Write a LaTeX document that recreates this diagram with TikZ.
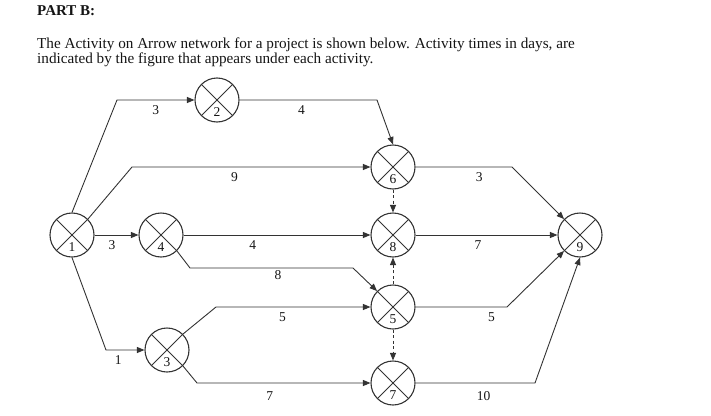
\documentclass[tikz,border=0pt]{standalone}
\usepackage{fontspec}
\setmainfont{Liberation Serif}
\usepackage{xcolor}
\definecolor{netline}{RGB}{51,51,51}
\definecolor{nettext}{RGB}{20,20,20}
\usetikzlibrary{arrows.meta,calc}

\begin{document}
\begin{tikzpicture}[x=1pt, y=-1pt,
  evt/.style={circle, draw=netline, line width=1.1pt, minimum size=44pt, inner sep=0pt,
    path picture={\draw[netline, line width=0.9pt]
      (path picture bounding box.north west) -- (path picture bounding box.south east)
      (path picture bounding box.north east) -- (path picture bounding box.south west);}},
  num/.style={font=\fontsize{13.5}{13.5}\selectfont, text=nettext, yshift=-12pt},
  act/.style={draw=netline, line width=0.9pt, -{Triangle[length=7.5pt,width=6pt]}},
  dum/.style={act, dashed, dash pattern=on 3pt off 2.5pt},
  lbl/.style={font=\fontsize{13.5}{13.5}\selectfont, text=nettext, anchor=north, inner sep=0pt, yshift=-5pt}]
  \useasboundingbox (0,0) rectangle (711,415);

  % heading
  \node[anchor=base west, inner sep=0pt, font=\fontsize{15}{15}\selectfont\bfseries, text=nettext] (head) at (37,16) {PART B:};
  \node[anchor=base west, inner sep=0pt, font=\fontsize{15.2}{15}\selectfont, text=nettext] (txtA) at (37,48) {The Activity on Arrow network for a project is shown below. Activity times in days, are};
  \node[anchor=base west, inner sep=0pt, font=\fontsize{15.2}{15}\selectfont, text=nettext] (txtB) at (37,63) {indicated by the figure that appears under each activity.};

  % events
  \node[evt, label={[num]center:1}] (n1) at (72,235) {};
  \node[evt, label={[num]center:2}] (n2) at (217,100) {};
  \node[evt, label={[num]center:3}] (n3) at (167,350) {};
  \node[evt, label={[num]center:4}] (n4) at (161,235) {};
  \node[evt, label={[num]center:5}] (n5) at (393,307) {};
  \node[evt, label={[num]center:6}] (n6) at (393,167) {};
  \node[evt, label={[num]center:7}] (n7) at (393,383) {};
  \node[evt, label={[num]center:8}] (n8) at (393,235) {};
  \node[evt, label={[num]center:9}] (n9) at (580,235) {};

  % activities
  \draw[act] (n1.north) -- (117,100) -- node[lbl, pos=0.5] {3} (n2);
  \draw[act] (n2) -- node[lbl, pos=0.45] {4} (377,100) -- (n6.north);
  \draw[act] (n1.north east) -- (132,167) -- node[lbl, pos=0.43] {9} (n6);
  \draw[act] (n1) -- node[lbl, pos=0.4] {3} (n4);
  \draw[act] (n4) -- node[lbl, pos=0.37] {4} (n8);
  \draw[act] (n4.south east) -- (190,268) -- node[lbl, pos=0.54, yshift=3pt] {8} (353,268) -- (n5.north west);
  \draw[act] (n1.south) -- (106,350) -- node[lbl, pos=0.32] {1} (n3);
  \draw[act] (n3.north east) -- (216,307) -- node[lbl, pos=0.43] {5} (n5);
  \draw[act] (n3.south east) -- (197,383) -- node[lbl, pos=0.42, yshift=-3pt] {7} (n7);
  \draw[act] (n6) -- node[lbl, pos=0.66] {3} (512,167) -- (n9.north west);
  \draw[act] (n8) -- node[lbl, pos=0.44] {7} (n9);
  \draw[act] (n5) -- node[lbl, pos=0.83] {5} (507,307) -- (n9.south west);
  \draw[act] (n7) -- node[lbl, pos=0.57, yshift=-3pt] {10} (535,383) -- (n9.south);

  % dummies
  \draw[dum] (n6) -- (n8);
  \draw[dum] (n5) -- (n8);
  \draw[dum] (n5) -- (n7);
\end{tikzpicture}
\end{document}
